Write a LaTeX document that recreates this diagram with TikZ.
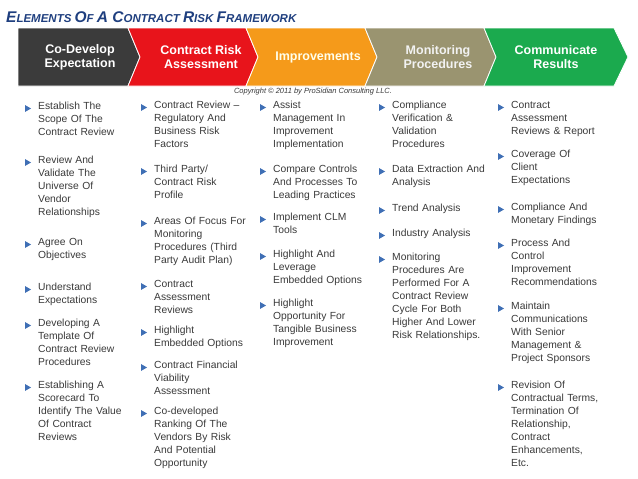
\documentclass[tikz,border=0pt]{standalone}
\usepackage{fontspec}
\setmainfont{Liberation Sans}
\usetikzlibrary{shapes.geometric}
\definecolor{ttl}{HTML}{1F3F7F}
\definecolor{cgray}{HTML}{3B3B3B}
\definecolor{cred}{HTML}{E8141B}
\definecolor{corange}{HTML}{F59A1A}
\definecolor{colive}{HTML}{9A9470}
\definecolor{cgreen}{HTML}{1BAA4E}
\definecolor{txt}{HTML}{3A3A3A}
\definecolor{bul}{HTML}{3F6FB5}
\begin{document}
\begin{tikzpicture}[x=1pt,y=-1pt,
 chev/.style={draw=white,line width=0.8pt},
 ctext/.style={text=white,font=\bfseries\fontsize{12.5}{14}\selectfont,align=center},
 item/.style={anchor=north west,inner sep=0pt,text=txt,align=left,font=\fontsize{10.3}{13}\selectfont},
 bl/.style={fill=bul,inner sep=0pt,regular polygon,regular polygon sides=3,shape border rotate=-90,minimum size=8pt}]
\useasboundingbox (0,0) rectangle (638,479);
\fill[white] (0,0) rectangle (638,479);
\node[anchor=west,inner sep=0pt,text=ttl,font=\bfseries\itshape] (title) at (6,17)
 {\fontsize{15.5}{15}\selectfont E\fontsize{11.5}{11}\selectfont LEMENTS \fontsize{15.5}{15}\selectfont O\fontsize{11.5}{11}\selectfont F \fontsize{15.5}{15}\selectfont A C\fontsize{11.5}{11}\selectfont ONTRACT \fontsize{15.5}{15}\selectfont R\fontsize{11.5}{11}\selectfont ISK \fontsize{15.5}{15}\selectfont F\fontsize{11.5}{11}\selectfont RAMEWORK};
% chevrons
\fill[chev,fill=cgray] (18,28)--(128,28)--(140,57)--(128,86)--(18,86)--cycle;
\fill[chev,fill=cred] (128,28)--(246,28)--(258,57)--(246,86)--(128,86)--(140,57)--cycle;
\fill[chev,fill=corange] (246,28)--(365,28)--(377,57)--(365,86)--(246,86)--(258,57)--cycle;
\fill[chev,fill=colive] (365,28)--(484,28)--(496,57)--(484,86)--(365,86)--(377,57)--cycle;
\fill[chev,fill=cgreen] (484,28)--(614,28)--(628,57)--(614,86)--(484,86)--(496,57)--cycle;
\node[ctext] (h1) at (80,57) {Co-Develop\\Expectation};
\node[ctext] (h2) at (201,57) {Contract Risk\\Assessment};
\node[ctext,text=white!92!yellow] (h3) at (318,57) {Improvements};
\node[ctext,text=white!90!gray] (h4) at (438,57) {Monitoring\\Procedures};
\node[ctext] (h5) at (556,57) {Communicate\\Results};
\node[inner sep=0pt,text=txt,font=\itshape\fontsize{7.5}{8}\selectfont] (copy) at (313,92) {Copyright © 2011 by ProSidian Consulting LLC.};
% items
\newcommand{\itm}[5]{%
 \node[bl] (#5b) at (#1,#2+6.5) {};
 \node[item,text width=#3] (#5) at (#1+11,#2) {#4};}
\itm{27}{102}{90pt}{Establish The\\Scope Of The\\Contract Review}{a1}
\itm{27}{156}{90pt}{Review And\\Validate The\\Universe Of\\Vendor\\Relationships}{a2}
\itm{27}{238}{90pt}{Agree On\\Objectives}{a3}
\itm{27}{283}{90pt}{Understand\\Expectations}{a4}
\itm{27}{319}{90pt}{Developing A\\Template Of\\Contract Review\\Procedures}{a5}
\itm{27}{381}{90pt}{Establishing A\\Scorecard To\\Identify The Value\\Of Contract\\Reviews}{a6}
\itm{143}{101}{110pt}{Contract Review –\\Regulatory And\\Business Risk\\Factors}{b1}
\itm{143}{165}{110pt}{Third Party/\\Contract Risk\\Profile}{b2}
\itm{143}{217}{110pt}{Areas Of Focus For\\Monitoring\\Procedures (Third\\Party Audit Plan)}{b3}
\itm{143}{280}{110pt}{Contract\\Assessment\\Reviews}{b4}
\itm{143}{326}{110pt}{Highlight\\Embedded Options}{b5}
\itm{143}{361}{110pt}{Contract Financial\\Viability\\Assessment}{b6}
\itm{143}{407}{110pt}{Co-developed\\Ranking Of The\\Vendors By Risk\\And Potential\\Opportunity}{b7}
\itm{262}{101}{105pt}{Assist\\Management In\\Improvement\\Implementation}{c1}
\itm{262}{165}{105pt}{Compare Controls\\And Processes To\\Leading Practices}{c2}
\itm{262}{213}{105pt}{Implement CLM\\Tools}{c3}
\itm{262}{250}{105pt}{Highlight And\\Leverage\\Embedded Options}{c4}
\itm{262}{299}{105pt}{Highlight\\Opportunity For\\Tangible Business\\Improvement}{c5}
\itm{381}{101}{110pt}{Compliance\\Verification \&\\Validation\\Procedures}{d1}
\itm{381}{165}{110pt}{Data Extraction And\\Analysis}{d2}
\itm{381}{204}{110pt}{Trend Analysis}{d3}
\itm{381}{229}{110pt}{Industry Analysis}{d4}
\itm{381}{253}{110pt}{Monitoring\\Procedures Are\\Performed For A\\Contract Review\\Cycle For Both\\Higher And Lower\\Risk Relationships.}{d5}
\itm{500}{101}{115pt}{Contract\\Assessment\\Reviews \& Report}{e1}
\itm{500}{150}{115pt}{Coverage Of\\Client\\Expectations}{e2}
\itm{500}{203}{115pt}{Compliance And\\Monetary Findings}{e3}
\itm{500}{239}{115pt}{Process And\\Control\\Improvement\\Recommendations}{e4}
\itm{500}{302}{115pt}{Maintain\\Communications\\With Senior\\Management \&\\Project Sponsors}{e5}
\itm{500}{381}{115pt}{Revision Of\\Contractual Terms,\\Termination Of\\Relationship,\\Contract\\Enhancements,\\Etc.}{e6}
\end{tikzpicture}
\end{document}
